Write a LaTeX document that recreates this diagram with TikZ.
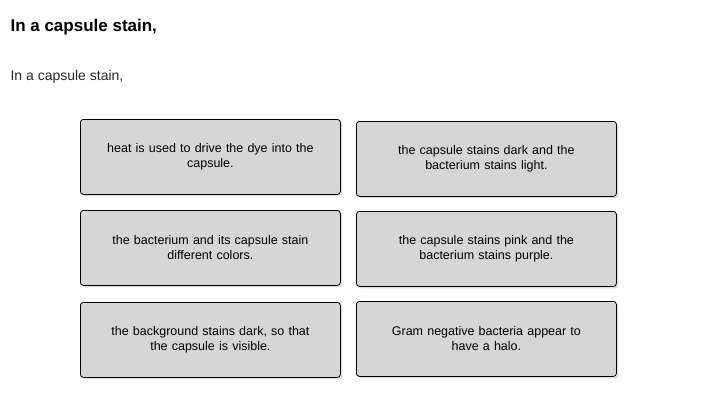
\documentclass[tikz,border=0pt]{standalone}
\usepackage{fontspec}
\setmainfont{Liberation Sans}
\usetikzlibrary{shadows}

\tikzset{
  choice/.style={draw=black, fill=gray!32, rounded corners=3pt, thick,
    minimum width=260pt, minimum height=75pt, align=center, text width=240pt,
    font=\fontsize{12.5}{15}\selectfont, anchor=north west,
    drop shadow={shadow xshift=2pt, shadow yshift=-2pt, opacity=0.25}}
}

\begin{document}
\begin{tikzpicture}[x=1pt,y=-1pt]
  \useasboundingbox (0,0) rectangle (720,400);

  % heading
  \node[anchor=west, font=\fontsize{17}{20}\selectfont\bfseries] (title) at (7,27) {In a capsule stain,};
  \node[anchor=west, font=\fontsize{14}{17}\selectfont, text=black!85] (stem) at (7,77) {In a capsule stain,};

  % left column
  \node[choice] (a1) at (80,119) {heat is used to drive the dye into the\\capsule.};
  \node[choice] (a2) at (80,210) {the bacterium and its capsule stain\\different colors.};
  \node[choice] (a3) at (80,302) {the background stains dark, so that\\the capsule is visible.};

  % right column
  \node[choice] (b1) at (356,121) {the capsule stains dark and the\\bacterium stains light.};
  \node[choice] (b2) at (356,211) {the capsule stains pink and the\\bacterium stains purple.};
  \node[choice] (b3) at (356,301) {Gram negative bacteria appear to\\have a halo.};

\end{tikzpicture}
\end{document}
